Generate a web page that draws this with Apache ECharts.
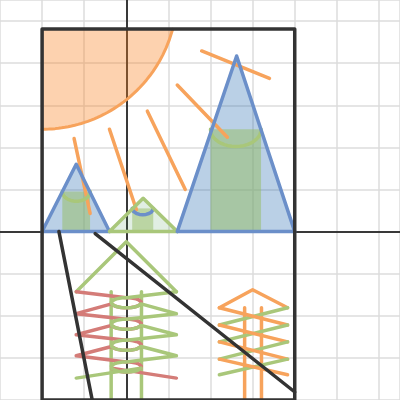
<!DOCTYPE html><html><head><meta charset="utf-8">
<script src="https://cdn.jsdelivr.net/npm/echarts@6/dist/echarts.min.js"></script>
<style>html,body{margin:0;padding:0;background:#fff}#c{width:400px;height:400px}</style></head><body><div id="c"></div>
<script>
const frame = [[-2,-4],[4,-4],[4,4.81],[-2,4.81],[-2,-4]];
const triangles = [
  [[-2,0],[-1.19,1.6],[-0.4,0]],
  [[-0.4,0],[0.4,0.79],[1.21,0]],
  [[1.21,0],[2.62,4.17],[4,0]]
];
const bars = [[-1.52,-0.86,0.95],[0.14,0.64,0.55],[2.0,3.2,2.43]];
const barDips = [0.72,0.4,2.02];
const sunCircle = [-2,5.64,3.21];
const rays = [
  [[-1.24,2.21],[-0.86,0.43]],
  [[-0.4,2.43],[0.24,0.52]],
  [[0.5,2.86],[1.4,1.0]],
  [[1.21,3.48],[2.4,2.24]],
  [[1.79,4.29],[3.4,3.64]]
];
const blackLines = [
  [[-1.6,0],[-0.79,-4.1]],
  [[-0.74,-0.05],[4,-3.81]]
];
const tree1Roof = [[-1.19,-1.43],[0,-0.24],[1.19,-1.43]];
const tree1Trunk = [[-0.36,-1.43],[0.36,-1.43]];
const tree1Levels = [-1.43,-1.95,-2.45,-2.95,-3.48];
const tree2Roof = [[2.21,-1.81],[3.0,-1.38],[3.83,-1.81]];
const tree2Trunk = [[2.81,-1.81],[3.21,-1.81]];
const tree2Levels = [-1.81,-2.22,-2.62,-3.03,-3.4];

const BLUE='#6b8fc9', BLUEF='rgba(45,112,179,0.33)', GREEN='#a9c77a', GREENF='rgba(150,190,100,0.5)',
      ORANGE='#f7a35c', ORANGEF='rgba(250,126,25,0.35)', RED='#d47c78', BLACK='#333';

function arc(cx,cy,rx,ry,a0,a1,n){const p=[];for(let i=0;i<=n;i++){const a=a0+(a1-a0)*i/n;p.push([cx+rx*Math.cos(a),cy+ry*Math.sin(a)]);}return p;}
function zig(startX, levels, loopX, rx, ry){
  const s = startX<loopX?1:-1; // +1: loops on far (right) side
  const pts=[[startX,levels[0]]];
  for(let i=0;i<levels.length-1;i++){
    const cy=(levels[i]+levels[i+1])/2;
    for(let k=0;k<=20;k++){const a=Math.PI/2-1.5*Math.PI*k/20;pts.push([loopX+s*rx*Math.cos(a),cy+ry*Math.sin(a)]);}
    pts.push(i<levels.length-2?[startX,levels[i+1]]:[2*loopX-startX,levels[i+1]]);
  }
  return pts;
}
const series=[];
function line(data,color,w,z){series.push({type:'line',data,showSymbol:false,symbol:'none',silent:true,lineStyle:{color,width:w||3.5,cap:'round',join:'round'},z:z||3,animation:false});}
function poly(points,fill,z){series.push({type:'custom',silent:true,z:z||2,animation:false,data:[0],
  renderItem:(p,api)=>({type:'polygon',shape:{points:points.map(q=>api.coord(q))},style:{fill}})});}

const sa=[];for(let i=0;i<=40;i++){const x=-2+3.1*i/40;sa.push([x,sunCircle[1]-Math.sqrt(Math.max(0,sunCircle[2]**2-(x-sunCircle[0])**2))]);}
poly([...sa,[-2,4.81]],ORANGEF,1);
line(sa,ORANGE,3);
rays.forEach(r=>line(r,ORANGE,3.5));
triangles.forEach((t,i)=>{poly(t,i==1?'rgba(56,140,70,0.15)':BLUEF,1);});
bars.forEach((b,i)=>{poly([[b[0],0],[b[1],0],[b[1],b[2]],[b[0],b[2]]],GREENF,2);
  const cx=(b[0]+b[1])/2, rx=(b[1]-b[0])/2;
  line(arc(cx,b[2],rx,b[2]-barDips[i],Math.PI,2*Math.PI,20),i==1?BLUE:GREEN,3.5,4);});
triangles.forEach((t,i)=>line([...t,t[0]],i==1?GREEN:BLUE,3.5,4));
line(frame,BLACK,3.5,5);
blackLines.forEach(l=>line(l,BLACK,3.5,6));
line(tree1Roof,GREEN,3.5);
tree1Trunk.forEach(t=>line([t,[t[0],-4.3]],GREEN,3.5));
line(zig(-1.19,tree1Levels,0,0.36,0.12),RED,3.5);
line(zig(1.19,tree1Levels,0,0.36,0.12),GREEN,3.5);
line(tree2Roof,ORANGE,3.5);
tree2Trunk.forEach(t=>line([t,[t[0],-4.3]],ORANGE,3.5));
for(let i=0;i<tree2Levels.length-1;i++){
  line([[3.83,tree2Levels[i]],[2.21,tree2Levels[i+1]]],GREEN,3.5);
  line([[2.21,tree2Levels[i]],[3.83,tree2Levels[i+1]]],ORANGE,3.5);
}
const ax={type:'value',interval:1,axisLabel:{show:false},axisTick:{show:false},
  axisLine:{onZero:true,lineStyle:{color:'#000',width:1.5}},splitLine:{lineStyle:{color:'#dcdcdc',width:1.5}}};
const chart=echarts.init(document.getElementById('c'));
chart.setOption({animation:false,grid:{left:0,right:0,top:0,bottom:0},
  xAxis:Object.assign({min:-3,max:6.5},ax),yAxis:Object.assign({min:-4,max:5.5},ax),series});
</script></body></html>
